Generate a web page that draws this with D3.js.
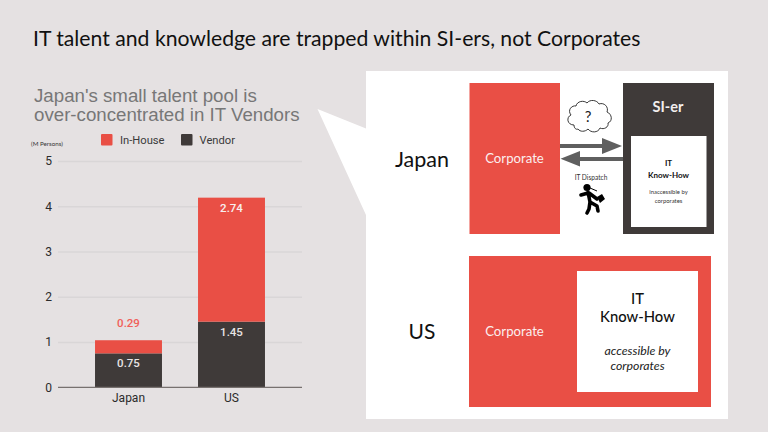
<!DOCTYPE html>
<html>
<head>
<meta charset="utf-8">
<script src="https://d3js.org/d3.v7.min.js"></script>
<style>
  html, body { margin: 0; padding: 0; background: #e5e1e2; }
  svg { display: block; }
  text { font-family: Lato, sans-serif; }
  .chart-text { font-family: Roboto, sans-serif; }
  .tick line { stroke: #d9d6d7; stroke-width: 1.5; }
  .tick text { font-family: Roboto, sans-serif; font-size: 12px; fill: #2b2b2b; }
</style>
</head>
<body>
<script>
// chart data
var countries = ["Japan", "US"];
var seriesNames = ["Vendor", "In-House"];
var vendorValues = [0.75, 1.45];
var inHouseValues = [0.29, 2.74];
var yTicks = [0, 1, 2, 3, 4, 5];

var red = "#e94f45", dark = "#3f3a39", bg = "#e5e1e2";

var svg = d3.select("body").append("svg").attr("width", 768).attr("height", 432);
svg.append("rect").attr("width", 768).attr("height", 432).attr("fill", bg);

svg.append("text").attr("x", 33).attr("y", 46)
  .attr("font-size", 21.2).attr("fill", "#111")
  .text("IT talent and knowledge are trapped within SI-ers, not Corporates");

// white panel + callout
svg.append("path").attr("fill", "#fff")
  .attr("d", "M317.5,109L366,128.5V71H728V419H366V215Z");

// --- bar chart ---
var x = d3.scaleBand().domain(countries).range([77, 283]).paddingInner(0.35).paddingOuter(0.175);
var y = d3.scaleLinear().domain([0, 5]).range([387.3, 161]);

var rows = countries.map(function(c, i) {
  return { country: c, "Vendor": vendorValues[i], "In-House": inHouseValues[i] };
});
var stacked = d3.stack().keys(seriesNames)(rows);
var color = d3.scaleOrdinal().domain(seriesNames).range([dark, red]);

svg.append("g")
  .attr("transform", "translate(58,0)")
  .call(d3.axisLeft(y).tickValues(yTicks).tickSize(-244).tickPadding(6).tickFormat(d3.format("d")))
  .call(function(g) {
    g.select(".domain").remove();
    g.selectAll(".tick line").filter(function(d) { return d === 0; }).remove();
  });

svg.append("g").selectAll("g").data(stacked).join("g")
  .attr("fill", function(d) { return color(d.key); })
  .selectAll("rect").data(function(d) { return d; }).join("rect")
  .attr("x", function(d) { return x(d.data.country); })
  .attr("width", x.bandwidth())
  .attr("y", function(d) { return y(d[1]); })
  .attr("height", function(d) { return y(d[0]) - y(d[1]); });

var xAxis = svg.append("g")
  .attr("transform", "translate(0," + y(0) + ")")
  .call(d3.axisBottom(x).tickSize(0).tickPadding(6));
xAxis.select(".domain").remove();
svg.append("line").attr("x1", 58).attr("x2", 302).attr("y1", y(0)).attr("y2", y(0))
  .attr("stroke", "#77716f").attr("stroke-width", 1.2);

// value labels
function barLabel(country, yPos, txt, fill) {
  svg.append("text").attr("class", "chart-text")
    .attr("x", x(country) + x.bandwidth() / 2).attr("y", yPos)
    .attr("text-anchor", "middle").attr("font-size", 11.5).attr("font-weight", 500).attr("fill", fill)
    .text(txt);
}
barLabel("Japan", y(vendorValues[0]) + 14, vendorValues[0].toFixed(2), "#e8e4e4");
barLabel("Japan", y(vendorValues[0] + inHouseValues[0]) - 13, inHouseValues[0].toFixed(2), "#f0605a");
barLabel("US", y(vendorValues[1]) + 14, vendorValues[1].toFixed(2), "#e8e4e4");
barLabel("US", y(vendorValues[1] + inHouseValues[1]) + 14.5, inHouseValues[1].toFixed(2), "#f8eeee");

svg.append("text").attr("x", 34).attr("y", 102)
  .style("font-family", "'Liberation Sans', Arial, sans-serif")
  .attr("font-size", 18.7).attr("fill", "#777").text("Japan's small talent pool is");
svg.append("text").attr("x", 34).attr("y", 120.5)
  .style("font-family", "'Liberation Sans', Arial, sans-serif")
  .attr("font-size", 18.7).attr("fill", "#777").text("over-concentrated in IT Vendors");

svg.append("text").attr("x", 31).attr("y", 146).attr("font-size", 6.2).attr("fill", "#333").text("(M Persons)");

var legend = [["In-House", 101, 120], ["Vendor", 181, 199.5]];
legend.forEach(function(l) {
  svg.append("rect").attr("x", l[1]).attr("y", 134).attr("width", 11.5).attr("height", 11.5).attr("rx", 1)
    .attr("fill", color(l[0]));
  svg.append("text").attr("class", "chart-text").attr("x", l[2]).attr("y", 143.5)
    .attr("font-size", 11.2).attr("fill", "#3a3a3a").text(l[0]);
});

// --- Japan diagram ---
function block(xp, yp, w, h, fill) {
  svg.append("rect").attr("x", xp).attr("y", yp).attr("width", w).attr("height", h).attr("fill", fill);
}
function label(xp, yp, txt, size, fill, opts) {
  opts = opts || {};
  svg.append("text").attr("x", xp).attr("y", yp).attr("text-anchor", opts.anchor || "middle")
    .attr("font-size", size).attr("fill", fill)
    .attr("font-weight", opts.weight || 400).attr("font-style", opts.italic ? "italic" : "normal")
    .text(txt);
}

label(422, 167, "Japan", 21.5, "#111");
block(469.5, 83, 90.5, 151, red);
label(514.5, 163, "Corporate", 13.2, "#fbeeee");
block(623, 83, 91, 151, dark);
label(668, 112, "SI-er", 14.5, "#f2eeee", { weight: 700 });
block(631, 136, 75.5, 91, "#fff");
label(668.5, 166, "IT", 8, "#111", { weight: 700 });
label(668.5, 177.5, "Know-How", 8, "#111", { weight: 700 });
label(668.5, 194, "inaccessible by", 5.9, "#333");
label(668.5, 203, "corporates", 5.9, "#333");

// arrows between corporate and SI-er
svg.append("path").attr("fill", "#5f5f5f")
  .attr("d", "M560,144H602V138L622,146L602,154V148H560Z");
svg.append("path").attr("fill", "#5f5f5f")
  .attr("d", "M623,157H580V151L560.5,158.7L580,166.5V161H623Z");
label(591, 180, "IT Dispatch", 6.6, "#333");

// cloud
svg.append("path").attr("fill", "#fff").attr("stroke", "#222").attr("stroke-width", 0.9)
  .attr("d", "M574,125c-7,0,-8,-8,-3,-10c-4,-5,1,-10,5,-9c1,-5,8,-6,11,-3c3,-4,10,-3,12,1c5,-2,10,3,8,8c5,2,6,9,1,11c1,4,-4,7,-8,5c-2,5,-9,5,-12,1c-3,3,-8,3,-10,0c-2,1,-4,-1,-4,-4z");
label(588, 122, "?", 15, "#222");

// running man
svg.append("circle").attr("cx", 587).attr("cy", 187.5).attr("r", 3.6).attr("fill", "#000");
svg.append("path").attr("fill", "none").attr("stroke", "#000").attr("stroke-width", 3.6)
  .attr("stroke-linecap", "round").attr("stroke-linejoin", "round")
  .attr("d", "M588,192L590,202L597,206L598,211M590,202L589,209L587,213M588,193L581,195M589,193L597,199");
svg.append("path").attr("fill", "#000").attr("d", "M597,197L602,194L605,199L600,203Z");
svg.append("path").attr("fill", "none").attr("stroke", "#000").attr("stroke-width", 1)
  .attr("d", "M590,188L597,191");

// --- US diagram ---
label(422, 339, "US", 21, "#111");
block(469, 256, 242, 151, red);
label(514.5, 336, "Corporate", 13.2, "#fbeeee");
block(577, 271, 121, 121, "#fff");
label(637.5, 304, "IT", 14.8, "#111", { weight: 500 });
label(637.5, 322, "Know-How", 14.8, "#111", { weight: 500 });
label(637.5, 355, "accessible by", 12.3, "#222", { italic: true });
label(637.5, 370, "corporates", 12.3, "#222", { italic: true });
</script>
</body>
</html>
